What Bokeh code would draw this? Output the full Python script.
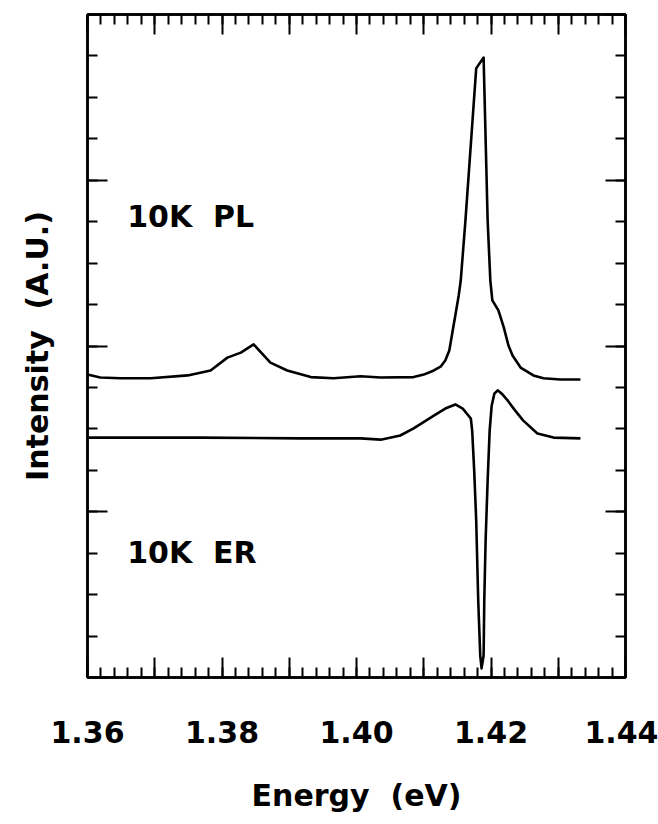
from bokeh.plotting import figure
from bokeh.models import Range1d, LinearAxis, FixedTicker, ColumnDataSource
from bokeh.core.properties import value
from bokeh.embed import file_html
from bokeh.resources import INLINE

# ---- data ----
pl_energy = [1.3600, 1.3619, 1.3649, 1.3694, 1.3749, 1.3783, 1.3808, 1.3828, 1.3847,
             1.3872, 1.3897, 1.3932, 1.3966, 1.4006, 1.4036, 1.4085, 1.4100, 1.4115,
             1.4125, 1.4132, 1.4138, 1.4143, 1.4147, 1.4152, 1.4155, 1.4162, 1.4178,
             1.4189, 1.4195, 1.4199, 1.4202, 1.4211, 1.4219, 1.4226, 1.4232, 1.4244,
             1.4263, 1.4278, 1.4303, 1.4333]
pl_intensity = [7.31, 7.24, 7.22, 7.22, 7.29, 7.41, 7.72, 7.84, 8.04,
                7.60, 7.41, 7.25, 7.22, 7.27, 7.24, 7.25, 7.31, 7.41,
                7.50, 7.65, 7.89, 8.37, 8.74, 9.22, 9.58, 11.03, 14.70,
                14.96, 11.03, 9.58, 9.10, 8.86, 8.45, 8.01, 7.77, 7.48,
                7.29, 7.22, 7.19, 7.19]

er_energy = [1.3600, 1.3768, 1.3917, 1.4006, 1.4036, 1.4065, 1.4085, 1.4115, 1.4132,
             1.4147, 1.4158, 1.4170, 1.4172, 1.4175, 1.4178, 1.4181, 1.4184, 1.4186,
             1.4189, 1.4190, 1.4192, 1.4195, 1.4198, 1.4201, 1.4205, 1.4210, 1.4216,
             1.4225, 1.4236, 1.4248, 1.4269, 1.4293, 1.4333]
er_intensity = [5.79, 5.79, 5.77, 5.77, 5.74, 5.84, 6.01, 6.32, 6.49,
                6.59, 6.49, 6.25, 5.96, 5.00, 3.79, 1.86, 0.53, 0.22,
                0.53, 1.86, 3.31, 4.75, 5.96, 6.56, 6.85, 6.93, 6.85,
                6.68, 6.44, 6.20, 5.89, 5.79, 5.77]

x_major_ticks = [1.36, 1.37, 1.38, 1.39, 1.40, 1.41, 1.42, 1.43, 1.44]
x_tick_labels = ["1.36", "", "1.38", "", "1.40", "", "1.42", "", "1.44"]
x_minor_ticks = [round(1.36 + 0.002 * i, 3) for i in range(41)]
y_major_ticks = [0, 4, 8, 12, 16]
y_minor_ticks = list(range(17))

ann_text = ["10K \u00a0PL", "10K \u00a0ER"]
ann_x = [1.3659, 1.3659]
ann_y = [11.12, 3.02]

FONT = "DejaVu Sans"

p = figure(width=658, height=824, x_range=Range1d(1.36, 1.44), y_range=Range1d(0, 16),
           output_backend="svg", toolbar_location=None)
p.min_border_left = 87
p.min_border_right = 33
p.min_border_top = 14
p.min_border_bottom = 147
p.xgrid.visible = False
p.ygrid.visible = False
p.outline_line_color = "black"
p.outline_line_width = 2.5
p.background_fill_color = "white"
p.border_fill_color = "white"


def style_ticks(ax):
    ax.axis_line_width = 2.5
    ax.axis_line_color = "black"
    ax.major_tick_in = 20
    ax.major_tick_out = 0
    ax.minor_tick_in = 10
    ax.minor_tick_out = 0
    ax.major_tick_line_width = 2
    ax.minor_tick_line_width = 2
    ax.major_tick_line_color = "black"
    ax.minor_tick_line_color = "black"


def hide_labels(ax):
    ax.major_label_text_color = None
    ax.major_label_text_font_size = "1px"
    ax.major_label_standoff = 0


xa = p.xaxis[0]
xa.ticker = FixedTicker(ticks=x_major_ticks, minor_ticks=x_minor_ticks)
xa.major_label_overrides = dict(zip(x_major_ticks, x_tick_labels))
style_ticks(xa)
xa.major_label_text_font = FONT
xa.major_label_text_font_size = "30px"
xa.major_label_text_font_style = "bold"
xa.major_label_text_color = "black"
xa.major_label_standoff = 43
xa.axis_label = "Energy \u00a0(eV)"
xa.axis_label_text_font = FONT
xa.axis_label_text_font_size = "30px"
xa.axis_label_text_font_style = "bold"
xa.axis_label_text_color = "black"
xa.axis_label_standoff = 32

ya = p.yaxis[0]
ya.ticker = FixedTicker(ticks=y_major_ticks, minor_ticks=y_minor_ticks)
style_ticks(ya)
hide_labels(ya)
ya.axis_label = "Intensity \u00a0(A.U.)"
ya.axis_label_text_font = FONT
ya.axis_label_text_font_size = "30px"
ya.axis_label_text_font_style = "bold"
ya.axis_label_text_color = "black"
ya.axis_label_standoff = 33

top = LinearAxis(ticker=FixedTicker(ticks=x_major_ticks, minor_ticks=x_minor_ticks))
style_ticks(top)
hide_labels(top)
p.add_layout(top, "above")

right = LinearAxis(ticker=FixedTicker(ticks=y_major_ticks, minor_ticks=y_minor_ticks))
style_ticks(right)
hide_labels(right)
p.add_layout(right, "right")

p.line(pl_energy, pl_intensity, line_color="black", line_width=2.6, line_join="round")
p.line(er_energy, er_intensity, line_color="black", line_width=2.6, line_join="round")

src = ColumnDataSource(dict(x=ann_x, y=ann_y, t=ann_text))
p.text(x="x", y="y", text="t", source=src, text_font=value(FONT), text_font_size="30px",
       text_font_style="bold", text_color="black", text_baseline="alphabetic", text_align="left")

open("out.html", "w").write(file_html(p, INLINE))
